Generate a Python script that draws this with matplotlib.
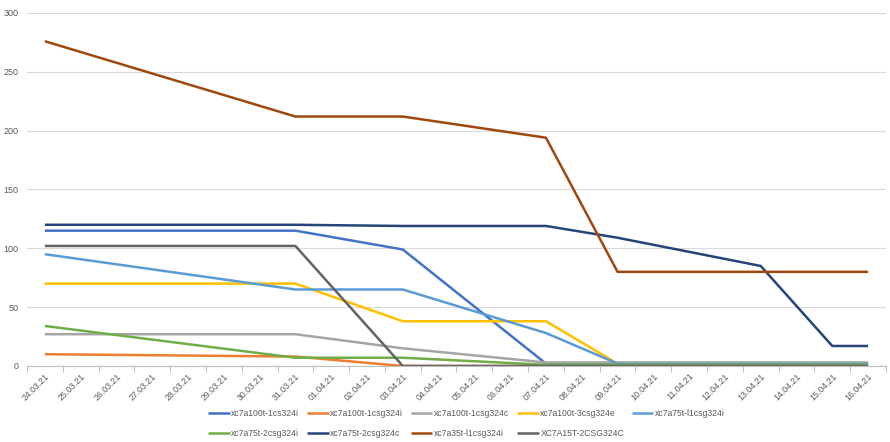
import pandas as pd
import matplotlib
matplotlib.use('Agg')
import matplotlib.pyplot as plt
import matplotlib.dates as mdates
from datetime import timedelta

plt.rcParams['font.family'] = ['Liberation Sans', 'DejaVu Sans']

# dates where values were recorded
dates = ['24.03.21', '31.03.21', '03.04.21', '07.04.21', '09.04.21', '13.04.21', '15.04.21', '16.04.21']

names = ['xc7a100t-1cs324i', 'xc7a100t-1csg324i', 'xc7a100t-1csg324c', 'xc7a100t-3csg324e',
         'xc7a75t-l1csg324i', 'xc7a75t-2csg324i', 'xc7a75t-2csg324c', 'xc7a35t-l1csg324i',
         'XC7A15T-2CSG324C']

xc7a100t_1cs324i = [115, 115, 99, 2, 2, 2, 2, 2]
xc7a100t_1csg324i = [10, 8, 0, 0, 0, 0, 0, 0]
xc7a100t_1csg324c = [27, 27, 15, 3, 3, 3, 3, 3]
xc7a100t_3csg324e = [70, 70, 38, 38, 2, 2, 2, 2]
xc7a75t_l1csg324i = [95, 65, 65, 28, 2, 2, 2, 2]
xc7a75t_2csg324i = [34, 7, 7, 1, 1, 1, 1, 1]
xc7a75t_2csg324c = [120, 120, 119, 119, 109, 85, 17, 17]
xc7a35t_l1csg324i = [276, 212, 212, 194, 80, 80, 80, 80]
xc7a15t_2csg324c = [102, 102, 0, 0, 0, 0, 0, 0]

series = [xc7a100t_1cs324i, xc7a100t_1csg324i, xc7a100t_1csg324c, xc7a100t_3csg324e,
          xc7a75t_l1csg324i, xc7a75t_2csg324i, xc7a75t_2csg324c, xc7a35t_l1csg324i,
          xc7a15t_2csg324c]

colors = ['#4472C4', '#ED7D31', '#A5A5A5', '#FFC000', '#5B9BD5',
          '#70AD47', '#264478', '#9E480E', '#636363']

x = pd.to_datetime(dates, format='%d.%m.%y')

fig = plt.figure(figsize=(8.9, 4.42), dpi=100)
ax = fig.add_axes([0.0303, 0.172, 0.9652, 0.7986])

handles = []
for name, vals, c in zip(names, series, colors):
    h, = ax.plot(x, vals, color=c, lw=1.8, label=name, solid_capstyle='butt')
    handles.append(h)

half = timedelta(hours=12)
ax.set_xlim(x[0] - half, x[-1] + half)
ax.set_ylim(0, 300)
ax.set_yticks(range(0, 301, 50))

ax.xaxis.set_major_locator(mdates.DayLocator())
ax.xaxis.set_major_formatter(mdates.DateFormatter('%d.%m.%y'))
ax.xaxis.set_minor_locator(mdates.HourLocator(byhour=[12]))
ax.tick_params(axis='x', which='major', length=0, labelsize=6.3, colors='#595959', pad=4)
ax.tick_params(axis='x', which='minor', length=4, color='#bfbfbf', width=0.8)
ax.tick_params(axis='y', length=0, labelsize=6.5, colors='#595959', pad=6)
plt.setp(ax.get_xticklabels(), rotation=45, ha='right', rotation_mode='anchor')

ax.grid(axis='y', color='#d9d9d9', lw=0.8)
ax.set_axisbelow(True)
for s in ['top', 'right', 'left']:
    ax.spines[s].set_visible(False)
ax.spines['bottom'].set_color('#bfbfbf')
ax.spines['bottom'].set_linewidth(0.8)

# legend: row 1 = first five, row 2 = remaining four
order = [0, 5, 1, 6, 2, 7, 3, 8, 4]
leg = fig.legend([handles[i] for i in order], [names[i] for i in order],
                 ncol=5, loc='lower left', bbox_to_anchor=(0.225, -0.008),
                 frameon=False, fontsize=6.2, handlelength=2.5, handletextpad=0.2,
                 columnspacing=0.9, labelspacing=1.3)
for t in leg.get_texts():
    t.set_color('#595959')

fig.savefig('out.png', dpi=100)
